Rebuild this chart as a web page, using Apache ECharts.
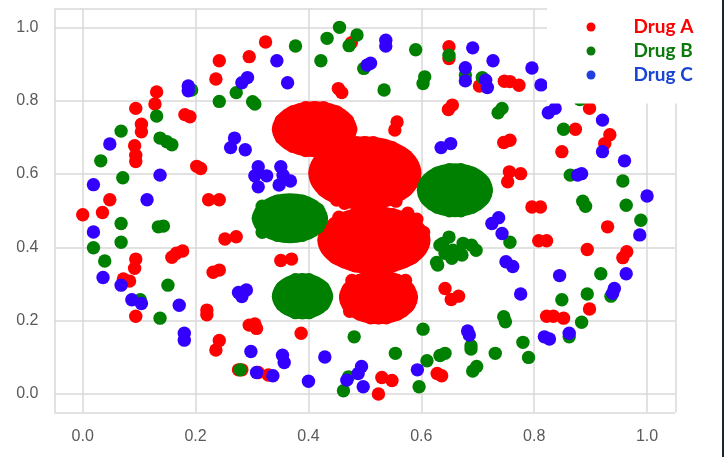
<!DOCTYPE html>
<html>
<head>
<meta charset="utf-8">
<style>
html,body{margin:0;padding:0;background:#1c2331;height:100%;overflow:hidden}
#c{width:722px;height:457px;background:#fff}
</style>
<script src="https://cdn.jsdelivr.net/npm/echarts@6/dist/echarts.min.js"></script>
</head>
<body>
<div id="c"></div>
<script>
const seriesNames = ['Drug A','Drug B','Drug C'];
const tickFormatDigits = 1;

const drugAScatter = [
[.324,.960],[.242,.909],[.295,.920],[.236,.859],[.131,.824],[.128,.791],[.094,.779],[.104,.736],[.104,.715],[.092,.677],[.094,.651],[.094,.634],[.181,.762],[.190,.756],[.202,.621],[.209,.615],[.223,.530],[.242,.530],[.048,.530],[.035,.495],[0,.489],[.453,.833],[.459,.822],[.476,.958],
[.252,.423],[.272,.429],[.177,.390],[.166,.384],[.158,.373],[.094,.368],[.092,.343],[.072,.314],[.083,.308],[.242,.338],[.231,.332],[.351,.364],[.370,.368],[.220,.229],[.220,.216],[.094,.212],[.295,.188],[.305,.191],[.308,.179],[.387,.166],[.242,.146],[.236,.120],[.276,.066],[.282,.066],[.311,.059],[.329,.052],
[.649,.947],[.649,.915],[.747,.853],[.757,.852],[.773,.842],[.703,.840],[.655,.788],[.648,.776],[.557,.742],[.553,.720],[.898,.779],[.873,.722],[.934,.707],[.925,.683],[.849,.661],[.757,.692],[.746,.686],[.756,.606],[.776,.601],[.753,.579],[.796,.510],[.811,.510],[.930,.456],
[.808,.418],[.822,.418],[.894,.394],[.964,.388],[.957,.372],[.642,.288],[.653,.258],[.666,.267],[.822,.212],[.834,.212],[.852,.207],[.898,.232],[.530,.045],[.548,.037],[.524,0],[.628,.056],[.636,.050],
[.576,.493],[.592,.477],[.604,.441],[.587,.403],[.581,.370],[.570,.362],[.454,.482],[.449,.452],[.450,.529],[.555,.526],[.464,.520],[.473,.226],[.576,.245],[.477,.310],[.572,.310]
];
const drugBScatter = [
[.455,1.0],[.433,.970],[.377,.949],[.422,.909],[.472,.950],[.486,.979],[.498,.888],[.272,.822],[.242,.798],[.301,.797],[.305,.791],[.131,.758],[.068,.717],[.137,.698],[.149,.688],[.158,.680],[.032,.636],[.071,.590],[.068,.465],[.134,.456],[.143,.458],[.193,.829],
[.068,.414],[.019,.399],[.039,.363],[.151,.297],[.102,.257],[.137,.207],[.481,.156],[.279,.066],[.471,.047],[.462,.009],
[.590,.939],[.649,.924],[.606,.865],[.603,.847],[.534,.829],[.708,.863],[.743,.779],[.736,.767],[.852,.722],[.864,.597],[.957,.581],[.886,.526],[.891,.512],[.963,.515],[.989,.474],[.881,.803],[.678,.870],
[.757,.414],[.746,.211],[.749,.197],[.918,.328],[.894,.273],[.849,.257],[.936,.267],[.884,.196],[.603,.177],[.780,.141],[.790,.100],[.688,.132],[.688,.123],[.862,.156],[.554,.111],[.731,.111],[.642,.111],[.633,.105],[.610,.091],[.698,.075],[.691,.063],[.596,.020],
[.649,.428],[.633,.406],[.627,.359],[.629,.352],[.642,.384],[.656,.392],[.674,.411],[.689,.406],[.697,.392],[.672,.379],[.654,.370],[.638,.411],
[.318,.441],[.318,.512],[.341,.523],[.360,.294],[.431,.261],[.358,.240]
];
const drugCScatter = [
[.311,.620],[.305,.595],[.311,.565],[.326,.595],[.351,.620],[.355,.597],[.348,.570],[.368,.581],
[.344,.909],[.363,.849],[.292,.863],[.282,.849],[.187,.840],[.187,.827],[.269,.698],[.262,.672],[.288,.666],[.048,.682],[.137,.597],[.019,.571],[.114,.530],[.019,.442],
[.036,.318],[.068,.297],[.087,.257],[.104,.247],[.171,.242],[.180,.166],[.180,.147],[.290,.284],[.276,.277],[.282,.266],[.298,.116],[.354,.106],[.357,.086],[.429,.101],[.308,.059],[.337,.050],[.400,.035],[.468,.038],[.494,.075],[.488,.056],[.497,.020],
[.537,.965],[.537,.949],[.691,.944],[.727,.909],[.678,.890],[.678,.854],[.714,.856],[.717,.836],[.796,.889],[.812,.843],[.510,.902],[.504,.897],[.837,.779],[.825,.767],[.921,.747],[.921,.661],[.960,.636],[1.0,.540],[.884,.601],[.877,.597],[.652,.683],[.635,.672],[.737,.481],[.725,.465],
[.743,.438],[.987,.434],[.750,.361],[.762,.348],[.845,.323],[.963,.328],[.942,.288],[.939,.275],[.776,.273],[.682,.172],[.685,.161],[.818,.156],[.827,.150],[.862,.166],[.593,.066]
];

// Dense clusters, row by row: [y, [x, x, ...]]
const drugAClusterTop = [
[.781,[.395,.411,.427]],
[.769,[.372,.387,.403,.419,.434,.450]],
[.746,[.352,.369,.386,.402,.419,.436,.452,.469]],
[.722,[.347,.363,.379,.395,.411,.427,.443,.459,.475]],
[.699,[.352,.369,.386,.402,.419,.436,.452,.469]],
[.676,[.372,.387,.403,.419,.434,.450]],
[.664,[.395,.411,.427]]
];
const drugAClusterMiddle = [
[.6855,[.485,.500,.515]],
[.6719,[.452,.468,.484,.500,.516,.532,.548]],
[.6487,[.427,.445,.463,.482,.500,.518,.537,.555,.573]],
[.6255,[.416,.433,.450,.466,.483,.500,.517,.534,.550,.567,.584]],
[.602,[.412,.430,.447,.465,.482,.500,.518,.535,.553,.570,.588]],
[.5791,[.416,.433,.450,.466,.483,.500,.517,.534,.550,.567,.584]],
[.5559,[.427,.445,.463,.482,.500,.518,.537,.555,.573]],
[.5327,[.452,.468,.484,.500,.516,.532,.548]],
[.5191,[.485,.500,.515]]
];
const drugAClusterLower = [
[.4946,[.500,.516,.532]],
[.4891,[.483,.499,.516,.532,.549]],
[.4659,[.447,.465,.482,.499,.516,.533,.550,.568,.585]],
[.4427,[.433,.450,.466,.483,.500,.516,.532,.549,.566,.582,.599]],
[.4195,[.428,.446,.463,.481,.498,.516,.534,.551,.569,.586,.604]],
[.3963,[.433,.450,.466,.483,.500,.516,.532,.549,.566,.582,.599]],
[.3731,[.447,.465,.482,.499,.516,.533,.550,.568,.585]],
[.3499,[.483,.499,.516,.532,.549]],
[.3444,[.500,.516,.532]]
];
const drugAClusterBottom = [
[.320,[.510,.524,.538]],
[.310,[.491,.507,.524,.541,.557]],
[.287,[.471,.489,.506,.524,.542,.559,.577]],
[.264,[.466,.481,.495,.510,.524,.539,.553,.568,.582]],
[.241,[.471,.489,.506,.524,.542,.559,.577]],
[.218,[.491,.507,.524,.541,.557]],
[.208,[.510,.524,.538]]
];
const drugBClusterLeft = [
[.526,[.345,.367,.389]],
[.503,[.318,.334,.351,.367,.384,.400,.417]],
[.480,[.311,.327,.343,.359,.375,.391,.407,.423]],
[.456,[.318,.334,.351,.367,.384,.400,.417]],
[.433,[.345,.367,.389]]
];
const drugBClusterLow = [
[.312,[.377,.389,.401]],
[.290,[.353,.371,.389,.408,.426]],
[.267,[.347,.364,.381,.398,.415,.432]],
[.244,[.353,.371,.389,.408,.426]],
[.222,[.377,.389,.401]]
];
const drugBClusterRight = [
[.612,[.650,.670]],
[.602,[.628,.644,.659,.675,.690]],
[.579,[.609,.626,.643,.659,.676,.693,.710]],
[.556,[.604,.620,.636,.652,.668,.684,.700,.715]],
[.533,[.609,.626,.643,.659,.676,.693,.710]],
[.510,[.628,.644,.659,.675,.690]],
[.500,[.650,.670]]
];
// Centres of the solid cluster bodies
const drugACentres = [[.4106,.7224],[.500,.6023],[.516,.4195],[.524,.2639]];
const drugBCentres = [[.3672,.4795],[.3893,.2666],[.6594,.556]];

const expand = rows => rows.flatMap(([y, xs]) => xs.map(x => [x, y]));

const drugAData = drugAScatter.concat(expand(drugAClusterTop), expand(drugAClusterMiddle), expand(drugAClusterLower), expand(drugAClusterBottom));
const drugBData = drugBScatter.concat(expand(drugBClusterLeft), expand(drugBClusterLow), expand(drugBClusterRight));
const drugCData = drugCScatter;

const chart = echarts.init(document.getElementById('c'), null, {renderer:'canvas'});
const axisCommon = margin => ({
  type:'value', min:-0.05, max:1.05, splitNumber:6,
  axisLine:{show:false}, axisTick:{show:false},
  splitLine:{show:true, lineStyle:{color:'#d9d9d9', width:1.5}},
  axisLabel:{
    color:'#5a5a5a', fontSize:16, fontFamily:'"Liberation Sans",Arial,sans-serif', margin,
    showMinLabel:false, showMaxLabel:false,
    formatter:v => v.toFixed(tickFormatDigits)
  }
});
const yAxis = axisCommon(16);
yAxis.axisLabel.padding = [10,0,0,0];
const RED='#ff0000', GREEN='#008000', BLUE='#3300ff';
const scatter = (name, data, color, size) => ({
  name, type:'scatter', data, symbol:'circle', symbolSize:size,
  itemStyle:{color, opacity:1}, emphasis:{disabled:true}, animation:false
});
const aBodySizes = [[85,56],[113,74],[113,68],[79,54]];
const bBodySizes = [[76,50],[61,46],[76,54]];
chart.setOption({
  animation:false,
  backgroundColor:'#ffffff',
  grid:{left:54.5, top:9, width:620.8, height:403.4, containLabel:false},
  xAxis:axisCommon(16),
  yAxis,
  legend:{
    left:547, top:0, orient:'vertical', selectedMode:false,
    backgroundColor:'#ffffff',
    padding:[17.5,27,19,39.5],
    itemWidth:9, itemHeight:20, itemGap:5,
    data:[
      {name:seriesNames[0], icon:'circle', itemStyle:{color:'#ff0000'}, textStyle:{color:'#ff0000'}},
      {name:seriesNames[1], icon:'circle', itemStyle:{color:'#0a7a0a'}, textStyle:{color:'#0a7a0a'}},
      {name:seriesNames[2], icon:'circle', itemStyle:{color:'#1f3fe0'}, textStyle:{color:'#1a44d4'}}
    ],
    textStyle:{fontFamily:'Lato,sans-serif', fontWeight:'bold', fontSize:19, padding:[0,0,0,33]}
  },
  series:[
    ...drugACentres.map((c,i)=>scatter(seriesNames[0],[c],RED,aBodySizes[i])),
    scatter(seriesNames[0], drugAData, RED, 13.4),
    ...drugBCentres.map((c,i)=>scatter(seriesNames[1],[c],GREEN,bBodySizes[i])),
    scatter(seriesNames[1], drugBData, GREEN, 13.4),
    scatter(seriesNames[2], drugCData, BLUE, 13.4)
  ]
});
</script>
</body>
</html>
